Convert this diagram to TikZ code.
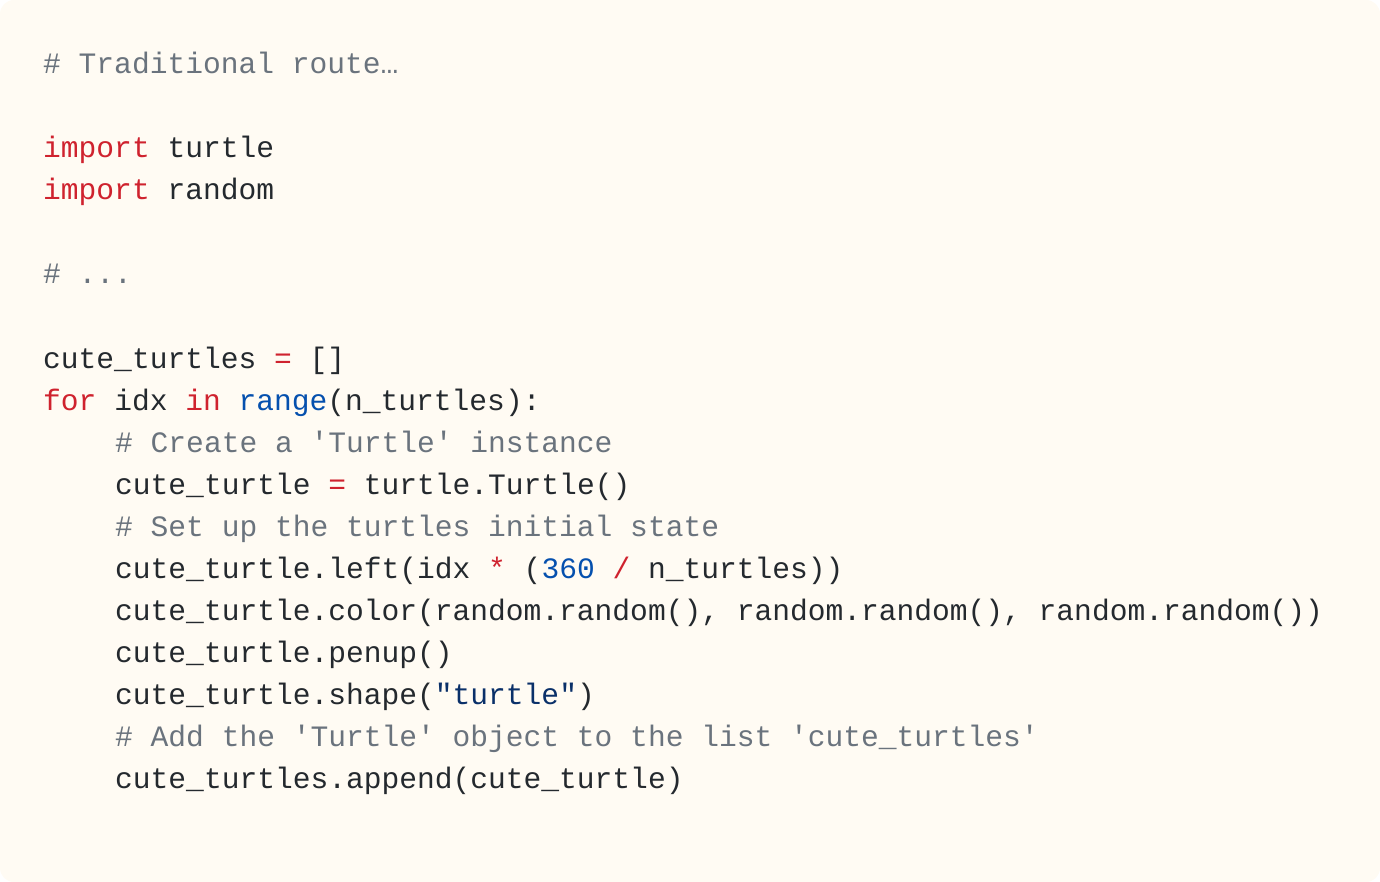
\documentclass[tikz,border=0pt]{standalone}
\usepackage{fontspec}
\newfontfamily\codefont{Liberation Mono}
\definecolor{bgcol}{HTML}{FFFBF3}
\definecolor{txtcol}{HTML}{24292E}
\definecolor{kwcol}{HTML}{CF222E}
\definecolor{cmcol}{HTML}{6A737D}
\definecolor{bicol}{HTML}{0550AE}
\definecolor{stcol}{HTML}{0A3069}
\newcommand{\kw}[1]{\textcolor{kwcol}{#1}}
\newcommand{\bi}[1]{\textcolor{bicol}{#1}}
\newcommand{\st}[1]{\textcolor{stcol}{#1}}
\newcommand{\sq}{\char"27\relax}
\newcommand{\dq}{\char"22\relax}
\tikzset{
  code/.style={anchor=base west, inner sep=0pt, text=txtcol,
    font=\codefont\fontsize{29.6}{42}\selectfont},
  comment/.style={code, text=cmcol}
}
\begin{document}
\begin{tikzpicture}[x=1pt,y=-1pt]
  \useasboundingbox (0,0) rectangle (1380,882);
  \fill[bgcol, rounded corners=14pt] (0,0) rectangle (1380,882);

  \node[comment] (l0)  at (43,74)  {\# Traditional route…};
  \node[code]    (l2)  at (43,158) {\kw{import} turtle};
  \node[code]    (l3)  at (43,200) {\kw{import} random};
  \node[comment] (l5)  at (43,284) {\# ...};
  \node[code]    (l7)  at (43,368) {cute\_turtles \kw{=} []};
  \node[code]    (l8)  at (43,410) {\kw{for} idx \kw{in} \bi{range}(n\_turtles):};
  \node[comment] (l9)  at (115,452) {\# Create a \sq Turtle\sq{} instance};
  \node[code]    (l10) at (115,494) {cute\_turtle \kw{=} turtle.Turtle()};
  \node[comment] (l11) at (115,536) {\# Set up the turtles initial state};
  \node[code]    (l12) at (115,578) {cute\_turtle.left(idx \kw{*} (\bi{360} \kw{/} n\_turtles))};
  \node[code]    (l13) at (115,620) {cute\_turtle.color(random.random(), random.random(), random.random())};
  \node[code]    (l14) at (115,662) {cute\_turtle.penup()};
  \node[code]    (l15) at (115,704) {cute\_turtle.shape(\st{\dq turtle\dq})};
  \node[comment] (l16) at (115,746) {\# Add the \sq Turtle\sq{} object to the list \sq cute\_turtles\sq};
  \node[code]    (l17) at (115,788) {cute\_turtles.append(cute\_turtle)};
\end{tikzpicture}
\end{document}
